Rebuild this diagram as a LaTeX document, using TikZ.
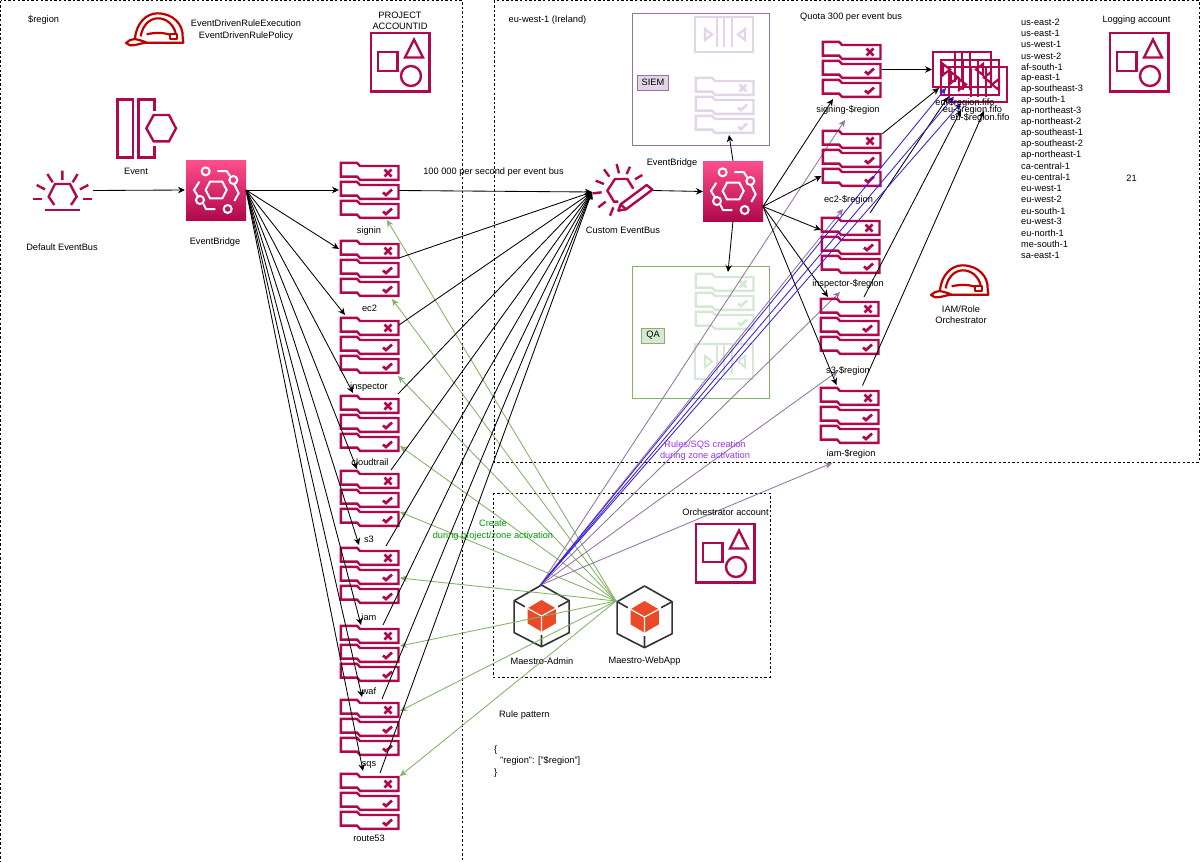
\documentclass[tikz,border=0pt]{standalone}
\usepackage{fontspec}
\setmainfont{Liberation Sans}
\usetikzlibrary{arrows.meta}
\definecolor{iconred}{HTML}{B0084D}
\definecolor{ebtop}{HTML}{FF4F8B}
\definecolor{ebbottom}{HTML}{B0084D}
\definecolor{hatred}{HTML}{BF0000}
\definecolor{purpleline}{HTML}{9673A6}
\definecolor{greenline}{HTML}{82B366}
\definecolor{blueline}{HTML}{3A1FE0}
\definecolor{fadepurple}{HTML}{E1D5E7}
\definecolor{fadegreen}{HTML}{D5E8D4}
\definecolor{greentext}{HTML}{009900}
\definecolor{purpletext}{HTML}{9933FF}
\definecolor{cubered}{HTML}{EC4A26}
\definecolor{hexdark}{HTML}{333333}
\tikzset{
  lbl/.style={font=\fontsize{9.25}{11.6}\selectfont, inner sep=0pt, align=center, text=black},
  lblleft/.style={lbl, anchor=west, align=left},
  region/.style={draw=black, line width=0.8pt, dash pattern=on 2.4pt off 2.2pt},
  blk/.style={line width=0.85pt, draw=black, -{Stealth[length=7pt,width=6.5pt,fill=black]}},
  grn/.style={line width=0.85pt, draw=greenline, -{Stealth[length=7pt,width=6.5pt,fill=greenline]}},
  prp/.style={line width=0.85pt, draw=purpleline, -{Stealth[length=7pt,width=6.5pt,fill=purpleline]}},
  blu/.style={line width=0.85pt, draw=blueline, -{Stealth[length=7pt,width=6.5pt,fill=blueline]}},
  holder/.style={minimum width=59pt, minimum height=59pt, inner sep=0pt, anchor=north west},
  pics/rulestack/.style={code={
    \foreach \d in {0,19,38}{
      \draw[line width=2.4pt, line join=miter] (0.8,\d+0.8) -- (17,\d+0.8) -- (20,\d+4) -- (58.5,\d+4) -- (58.5,\d+17.8) -- (20,\d+17.8) -- (17,\d+14.6) -- (0.8,\d+14.6) -- cycle;
    }
    \draw[line width=2.6pt] (44.5,7.5) -- (51.5,14.5) (51.5,7.5) -- (44.5,14.5);
    \foreach \d in {19,38}{
      \draw[line width=2.7pt] (43,\d+11.5) -- (46,\d+14) -- (52,\d+8.5);
    }
  }},
  pics/queueicon/.style={code={
    \draw[line width=2.4pt] (0,0) rectangle (58,35);
    \draw[line width=2.2pt] (10,12) -- (17,17.5) -- (10,23) -- cycle;
    \draw[line width=2.2pt] (50,12) -- (43,17.5) -- (50,23) -- cycle;
    \draw[line width=2.2pt] (21.7,0) -- (21.7,30) (29,0) -- (29,30) (36.7,0) -- (36.7,30);
  }},
  pics/accounticon/.style={code={
    \draw[line width=2.4pt] (0,0) rectangle (58.5,58.5);
    \draw[line width=2.4pt] (7,19) rectangle (26.5,38);
    \draw[line width=2.4pt] (43,6.5) -- (52,24.5) -- (34,24.5) -- cycle;
    \draw[line width=2.4pt] (40,43) circle (10);
  }},
  pics/busicon/.style={code={
    \begin{scope}[scale=1/3,shift={(-99,-510)},line width=2.4pt]
      \draw (163,615) -- (146,590) -- (165,552) -- (210,552) -- (230,590) -- (213,615);
      \draw (135,630) -- (240,630);
      \draw (187,512) -- (187,540) (142,522) -- (158,547) (233,522) -- (218,547);
      \draw (110,555) -- (135,568) (265,555) -- (240,568);
      \draw (98,597) -- (127,597) (250,597) -- (277,597);
    \end{scope}
  }},
  pics/custombusicon/.style={code={
    \begin{scope}[scale=1/3,line width=2.4pt]
      \draw (85,155) -- (72,155) -- (52,122) -- (75,87) -- (112,87) -- (130,116);
      \draw (80,42) -- (87,70) (42,58) -- (58,80) (120,50) -- (110,72);
      \draw (17,92) -- (42,102) (157,75) -- (135,88);
      \draw (8,130) -- (35,127) (25,172) -- (47,155) (70,172) -- (60,197);
      \draw[line join=round] (85,182) -- (92,163) -- (170,105) -- (187,119) -- (108,178) -- cycle;
      \draw (92,163) -- (108,178);
    \end{scope}
  }},
  pics/eventicon/.style={code={
    \begin{scope}[scale=1/3,shift={(-352,-297)},line width=2.4pt]
      \draw (353,298) rectangle (400,472);
      \draw (465,332) -- (465,298) -- (416,298) -- (416,472) -- (465,472) -- (465,438);
      \draw (462,345) -- (508,345) -- (529,385) -- (508,424) -- (462,424) -- (440,385) -- cycle;
    \end{scope}
  }},
  pics/ebglyph/.style={code={
    \begin{scope}[scale=1/3,shift={(-558,-480)},line width=2pt]
      \draw[white] (630,545) -- (667,545) -- (680,570) -- (667,595) -- (630,595) -- (617,570) -- cycle;
      \draw[white] (617,514) circle (12) (700,540) circle (12) (600,600) circle (12) (683,627) circle (12);
      \draw[white] (652,513) -- (680,513) -- (690,528);
      \draw[white] (703,553) -- (716,580) -- (703,603);
      \draw[white] (598,545) -- (582,570) -- (594,589);
      \draw[white] (610,611) -- (618,627) -- (646,627);
    \end{scope}
  }},
  pics/hat/.style={code={
    \begin{scope}[scale=1/3,shift={(-378,-40)},line width=2.2pt,line join=round]
      \draw (405,118) .. controls (408,70) and (440,41) .. (472,41)
            .. controls (520,41) and (550,75) .. (548,112) -- (550,129) -- (440,129)
            .. controls (425,129) and (415,137) .. (390,137) -- (378,130)
            .. controls (385,122) and (395,118) .. (405,118) -- (428,124) -- (440,129);
      \draw (422,110) .. controls (428,75) and (450,56) .. (474,56)
            .. controls (500,56) and (520,75) .. (527,100);
      \draw (440,104) .. controls (465,98) and (490,98) .. (512,106);
      \draw (511,104) rectangle (531,118);
    \end{scope}
  }},
  pics/maestro/.style={code={
    \begin{scope}[scale=1/3,shift={(-185,-408)}]
      \draw[hexdark,line width=1.6pt,line join=round] (185,315) -- (268,362) -- (268,458) -- (185,500) -- (103,458) -- (103,362) -- cycle;
      \draw[hexdark,line width=1.6pt] (103,362) -- (135,380) (268,362) -- (235,380) (185,500) -- (185,465);
      \fill[cubered] (185,360) -- (228,385) -- (228,430) -- (185,455) -- (143,430) -- (143,385) -- cycle;
      \draw[white,line width=1.2pt] (143,385) -- (185,408) -- (228,385) (185,408) -- (185,455);
    \end{scope}
  }}
}
\begin{document}
\begin{tikzpicture}[x=1pt,y=-1pt]
\useasboundingbox[fill=white] (0,0) rectangle (1200,862);

% account / region frames
\draw[region] (0.5,0.5) rectangle (462,862);
\draw[region] (494,0.5) rectangle (1199,462);
\draw[region] (493,493) rectangle (770,677);

% faded panels
\node[draw=purpleline, line width=0.8pt, minimum width=137pt, minimum height=132pt, inner sep=0pt, anchor=north west] (siembox) at (632,13) {};
\node[draw=greenline, line width=0.8pt, minimum width=137pt, minimum height=132pt, inner sep=0pt, anchor=north west] (qabox) at (632,266) {};
\pic[color=fadepurple] at (695,17) {queueicon};
\pic[color=fadepurple] at (695,77) {rulestack};
\pic[color=fadegreen] at (695,273) {rulestack};
\pic[color=fadegreen] at (695,344) {queueicon};
\node[lbl, draw=purpleline, fill=fadepurple, line width=0.8pt, minimum width=31pt, minimum height=15pt] (siemtag) at (653,82.5) {SIEM};
\node[lbl, draw=greenline, fill=fadegreen, line width=0.8pt, minimum width=23pt, minimum height=15pt] (qatag) at (653,335.5) {QA};

% icons
\node[holder] (bus1) at (33,170) {};
\pic[color=iconred] at (33,170) {busicon};
\node[holder] (event) at (117,99) {};
\pic[color=iconred] at (117,99) {eventicon};
\node[holder, minimum height=35pt] (hat1) at (126,13) {};
\pic[color=hatred] at (126,13) {hat};
\node[holder, minimum height=35pt] (hat2) at (931,265) {};
\pic[color=hatred] at (931,265) {hat};
\node[holder] (acct1) at (371,33) {};
\pic[color=iconred] at (371,33) {accounticon};
\node[holder] (acct2) at (1110,33) {};
\pic[color=iconred] at (1110,33) {accounticon};
\node[holder] (acct3) at (696,524) {};
\pic[color=iconred] at (696,524) {accounticon};
\node[holder] (bus2) at (590,150) {};
\pic[color=iconred] at (590,150) {custombusicon};

\node[holder, minimum width=60pt, minimum height=60pt, top color=ebtop, bottom color=ebbottom] (eb1) at (186,160) {};
\pic at (186,160) {ebglyph};
\node[holder, minimum width=60pt, minimum height=60pt, top color=ebtop, bottom color=ebbottom] (eb2) at (703,161) {};
\pic at (703,161) {ebglyph};

\node[minimum size=55pt, inner sep=0pt] (admin) at (541.5,616) {};
\pic at (541.5,616) {maestro};
\node[minimum size=55pt, inner sep=0pt] (webapp) at (644.5,617) {};
\pic at (644.5,617) {maestro};

% queues
\foreach \nm/\qx/\qy in {q1/933/52, q2/941/60, q3/949/67}{
  \node[holder, minimum width=58pt, minimum height=35pt] (\nm) at (\qx,\qy) {};
  \pic[color=iconred] at (\qx,\qy) {queueicon};
}

% connector end points
\coordinate (eb1out) at (246,190);
\coordinate (bus1out) at (93,190.5);
\coordinate (eb1in) at (185,190);
\coordinate (bus2in) at (592,192);
\coordinate (bus2out) at (653,190.5);
\coordinate (eb2in) at (703,191.5);
\coordinate (eb2out) at (763,206.5);
\coordinate (eb2up) at (733,161);
\coordinate (eb2down) at (733,221);
\coordinate (siemin) at (729,135);
\coordinate (qain) at (728,272);
\coordinate (webout) at (616,601);
\coordinate (adminout) at (540.5,585);

% project rule stacks: name / x / y / black in / black out / green in
\foreach \nm/\sx/\sy/\ix/\iy/\ox/\oy/\gx/\gy in {
  signin/340/162/339/190/399/190.5/387/220,
  ec2/340/240/339/249/399/258/392/299,
  inspector/340/317/345/315/399/325/398/376,
  cloudtrail/340/395/353/393/398/394/400/446,
  s3/340/470/357/469/391/470/400/512,
  iam/340/547/359/545/386/546/400/578,
  waf/340/625/361/625/383/625/400/646,
  sqs/340/699/362/697/382/699/400/711,
  route53/340/773/363/771/380/773/400/776}{
  \node[holder] (\nm) at (\sx,\sy) {};
  \pic[color=iconred] at (\sx,\sy) {rulestack};
  \coordinate (\nm-in) at (\ix,\iy);
  \coordinate (\nm-out) at (\ox,\oy);
  \coordinate (\nm-green) at (\gx,\gy);
  \draw[blk] (eb1out) -- (\nm-in);
  \draw[blk] (\nm-out) -- (bus2in);
  \draw[grn] (webout) -- (\nm-green);
}

% regional rule stacks: name / x / y / black in / black out / queue end / purple end
\foreach \nm/\sx/\sy/\ix/\iy/\ox/\oy/\qx/\qy/\px/\py in {
  rsigning/822/41/833/99/882/69.5/932/69.5/845/120,
  rec2/822/130/821.5/176/882/134/939/88/843/209,
  rinspector/821/217/821/230/870/213/948/97/840/292,
  rs3/820/298/828/297/864/297/961/110/838/371,
  riam/820/387/836.5/385/862.5/385.5/984/111/832/463}{
  \node[holder] (\nm) at (\sx,\sy) {};
  \pic[color=iconred] at (\sx,\sy) {rulestack};
  \coordinate (\nm-in) at (\ix,\iy);
  \coordinate (\nm-out) at (\ox,\oy);
  \coordinate (\nm-q) at (\qx,\qy);
  \coordinate (\nm-p) at (\px,\py);
  \draw[blk] (eb2out) -- (\nm-in);
  \draw[blk] (\nm-out) -- (\nm-q);
  \draw[prp] (adminout) -- (\nm-p);
}

% single connectors
\draw[blk] (bus1out) -- (eb1in);
\draw[blk] (bus2out) -- (eb2in);
\draw[blk] (eb2up) -- (siemin);
\draw[blk] (eb2down) -- (qain);
\coordinate (blue1) at (946,88);
\coordinate (blue2) at (954,96.5);
\coordinate (blue3) at (961,103);
\draw[blu] (adminout) -- (blue1);
\draw[blu] (adminout) -- (blue2);
\draw[blu] (adminout) -- (blue3);

% labels
\node[lblleft] (t1) at (28,20.5) {\$region};
\node[lbl] (t2) at (246,30) {EventDrivenRuleExecution\\EventDrivenRulePolicy};
\node[lbl] (t3) at (400,21) {PROJECT\\ACCOUNTID};
\node[lbl] (t4) at (136,171) {Event};
\node[lbl] (t5) at (62,247) {Default EventBus};
\node[lbl] (t6) at (215,242.5) {EventBridge};
\node[lbl] (t7) at (493.5,172.5) {100 000 per second per event bus};
\node[lbl] (t8) at (623,230) {Custom EventBus};
\node[lbl] (t9) at (672,163) {EventBridge};
\node[lblleft] (t10) at (508.5,20.5) {eu-west-1 (Ireland)};
\node[lblleft] (t11) at (800,17) {Quota 300 per event bus};
\node[lbl] (t12) at (1136.5,20.5) {Logging account};
\node[lbl] (t13) at (1131.5,178) {21};
\node[lbl] (t14) at (961,314.5) {IAM/Role\\Orchestrator};
\node[lbl] (t15) at (725.5,512) {Orchestrator account};
\node[lbl] (t16) at (542,661.5) {Maestro-Admin};
\node[lbl] (t17) at (644.5,661.5) {Maestro-WebApp};
\node[lblleft] (t18) at (499,715) {Rule pattern};
\node[lblleft] (t19) at (494,761.5) {\{\\[-0.4pt]\hspace*{6pt}"region": ["\$region"]\\[-0.4pt]\}};
\node[lbl, text=greentext] (t20) at (493,530.5) {Create\\during project/zone activation};
\node[lbl, text=purpletext] (t21) at (705,450.5) {Rules/SQS creation\\during zone activation};
\foreach \nm/\tx/\ty/\tt in {
  l1/369/231.5/signin, l2/369.5/308.5/ec2, l3/369/386.7/inspector, l4/370/461.7/cloudtrail,
  l5/369/539/s3, l6/369/617/iam, l7/369/690.7/waf, l8/369/765/sqs, l9/369/838/route53,
  r1/848/110/signing-\$region, r2/848.5/200/ec2-\$region, r3/848/284/inspector-\$region,
  r4/848/371.5/s3-\$region, r5/851/454/iam-\$region,
  f1/965/102.7/eu-\$region.fifo, f2/972.5/110/eu-\$region.fifo, f3/980/118/eu-\$region.fifo}{
  \node[lbl] (\nm) at (\tx,\ty) {\tt};
}
\foreach \tt [count=\i from 0] in {us-east-2,us-east-1,us-west-1,us-west-2,af-south-1,ap-east-1,ap-southeast-3,ap-south-1,ap-northeast-3,ap-northeast-2,ap-southeast-1,ap-southeast-2,ap-northeast-1,ca-central-1,eu-central-1,eu-west-1,eu-west-2,eu-south-1,eu-west-3,eu-north-1,me-south-1,sa-east-1}{
  \node[lblleft] (reg\i) at (1021,22.7+\i*11.06) {\tt};
}
\end{tikzpicture}
\end{document}
